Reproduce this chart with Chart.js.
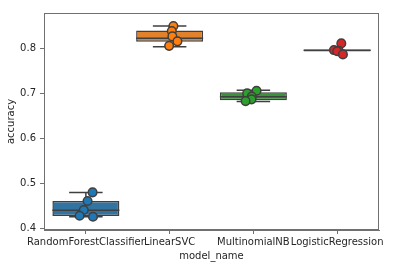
<!DOCTYPE html>
<html>
<head>
<meta charset="utf-8">
<script src="https://cdn.jsdelivr.net/npm/chart.js@4.4.1/dist/chart.umd.min.js"></script>
<style>
  html, body { margin: 0; padding: 0; background: #fff; }
  canvas { display: block; }
</style>
</head>
<body>
<canvas id="accuracyChart" width="417" height="279"></canvas>
<script>
const models = ["RandomForestClassifier", "LinearSVC", "MultinomialNB", "LogisticRegression"];
const yTicks = [0.4, 0.5, 0.6, 0.7, 0.8];

// box statistics
const q1 = [0.4267, 0.814, 0.684, 0.7925];
const medians = [0.4393, 0.8216, 0.692, 0.795];
const q3 = [0.46, 0.839, 0.7016, 0.797];
const whiskerLow = [0.425, 0.803, 0.681, 0.7925];
const whiskerHigh = [0.479, 0.849, 0.706, 0.797];

// per-fold accuracies and their strip jitter (in category units)
const rfAcc = [0.4793, 0.46, 0.44, 0.4273, 0.4251];
const rfJitter = [0.08, 0.02, -0.025, -0.075, 0.085];
const svcAcc = [0.849, 0.838, 0.826, 0.815, 0.805];
const svcJitter = [0.045, 0.026, 0.033, 0.093, -0.006];
const nbAcc = [0.7051, 0.6993, 0.692, 0.686, 0.6822];
const nbJitter = [0.038, -0.074, -0.02, -0.022, -0.093];
const lrAcc = [0.8104, 0.7956, 0.794, 0.793, 0.786];
const lrJitter = [0.05, -0.038, 0.02, 0.0, 0.069];

const boxColors = ["#3274a1", "#e1812c", "#3a923a", "#c03d3e"];
const pointColors = ["#1f77b4", "#ff7f0e", "#2ca02c", "#d62728"];
const EDGE = "#3f3f3f";
const SPINE = "#707070";
const TEXT = "#262626";

const strips = [
  [rfAcc, rfJitter],
  [svcAcc, svcJitter],
  [nbAcc, nbJitter],
  [lrAcc, lrJitter]
];

const stripData = [];
const stripColors = [];
strips.forEach(([acc, jit], i) => {
  acc.forEach((v, k) => {
    stripData.push({ x: i + jit[k], y: v });
    stripColors.push(pointColors[i]);
  });
});

// whiskers, caps and medians drawn right after the boxes
const boxDecor = {
  id: "boxDecor",
  afterDatasetDraw(chart, args) {
    if (chart.data.datasets[args.index].type !== "bar") return;
    const { ctx } = chart;
    const x = chart.scales.xj;
    const y = chart.scales.y;
    const half = x.getPixelForValue(0.4) - x.getPixelForValue(0);
    const line = (x1, y1, x2, y2) => {
      ctx.beginPath();
      ctx.moveTo(x1, y1);
      ctx.lineTo(x2, y2);
      ctx.stroke();
    };
    ctx.save();
    ctx.strokeStyle = EDGE;
    ctx.lineWidth = 1.5;
    models.forEach((m, i) => {
      const cx = x.getPixelForValue(i);
      if (whiskerHigh[i] > q3[i]) {
        const yh = y.getPixelForValue(whiskerHigh[i]);
        line(cx, y.getPixelForValue(q3[i]), cx, yh);
        line(cx - half / 2, yh, cx + half / 2, yh);
      }
      if (whiskerLow[i] < q1[i]) {
        const yl = y.getPixelForValue(whiskerLow[i]);
        line(cx, y.getPixelForValue(q1[i]), cx, yl);
        line(cx - half / 2, yl, cx + half / 2, yl);
      }
      const ym = y.getPixelForValue(medians[i]);
      line(cx - half, ym, cx + half, ym);
    });
    ctx.restore();
  },
  afterDraw(chart) {
    const { ctx, chartArea: a } = chart;
    ctx.save();
    ctx.strokeStyle = SPINE;
    ctx.lineWidth = 1;
    ctx.strokeRect(a.left + 0.5, a.top + 0.5, a.right - a.left - 1, a.bottom - a.top - 1);
    ctx.restore();
  }
};

new Chart(document.getElementById("accuracyChart"), {
  type: "bar",
  data: {
    labels: models,
    datasets: [
      {
        type: "scatter",
        xAxisID: "xj",
        data: stripData,
        backgroundColor: stripColors,
        borderColor: EDGE,
        borderWidth: 1.5,
        pointRadius: 4.3,
        order: 1
      },
      {
        type: "bar",
        xAxisID: "x",
        data: models.map((m, i) => [q1[i], q3[i]]),
        backgroundColor: boxColors,
        borderColor: EDGE,
        borderWidth: 1.5,
        borderSkipped: false,
        grouped: false,
        barPercentage: 0.8,
        categoryPercentage: 1,
        order: 2
      }
    ]
  },
  options: {
    responsive: false,
    animation: false,
    layout: { padding: { left: 0, right: 38, top: 13, bottom: 0 } },
    plugins: {
      legend: { display: false },
      tooltip: { enabled: false }
    },
    scales: {
      x: {
        type: "category",
        offset: true,
        afterFit: (s) => { s.height = 49; },
        grid: { display: true, offset: false, drawOnChartArea: false, drawTicks: true, tickLength: 4, tickColor: SPINE },
        border: { display: true, color: SPINE, width: 1 },
        ticks: {
          autoSkip: false,
          maxRotation: 0,
          minRotation: 0,
          padding: 2,
          color: TEXT,
          font: { family: "'DejaVu Sans'", size: 10 }
        },
        title: {
          display: true,
          text: "model_name",
          color: TEXT,
          font: { family: "'DejaVu Sans'", size: 10 },
          padding: { top: 0, bottom: 17 }
        }
      },
      xj: {
        type: "linear",
        display: false,
        offset: false,
        min: -0.5,
        max: 3.5
      },
      y: {
        type: "linear",
        min: 0.3956,
        max: 0.878,
        afterFit: (s) => { s.width = 44; },
        afterBuildTicks: (s) => { s.ticks = yTicks.map((v) => ({ value: v })); },
        grid: { display: true, drawOnChartArea: false, drawTicks: true, tickLength: 4, tickColor: SPINE },
        border: { display: true, color: SPINE, width: 1 },
        ticks: {
          padding: 4,
          color: TEXT,
          font: { family: "'DejaVu Sans'", size: 10 },
          callback: (v) => Number(v).toFixed(1)
        },
        title: {
          display: true,
          text: "accuracy",
          color: TEXT,
          font: { family: "'DejaVu Sans'", size: 10 },
          padding: { top: 5, bottom: 0 }
        }
      }
    }
  },
  plugins: [boxDecor]
});
</script>
</body>
</html>
